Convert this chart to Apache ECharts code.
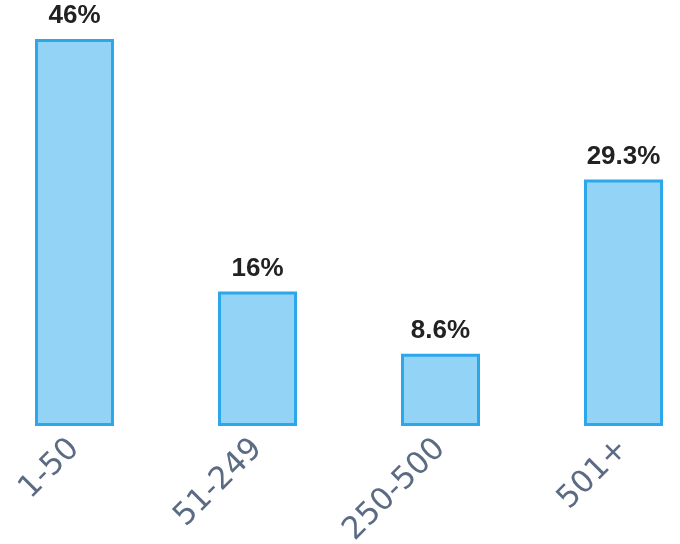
<!DOCTYPE html>
<html><head><meta charset="utf-8">
<script src="https://cdn.jsdelivr.net/npm/echarts@6/dist/echarts.min.js"></script>
<style>html,body{margin:0;padding:0;background:#fff}#c{width:680px;height:544px}</style>
</head><body><div id="c"></div>
<script>
const categories = ['1-50', '51-249', '250-500', '501+'];
const values = [46, 16, 8.6, 29.3];
const labels = ['46%', '16%', '8.6%', '29.3%'];

const chart = echarts.init(document.getElementById('c'));
chart.setOption({
  animation: false,
  grid: { left: -17, right: -35, top: 39, bottom: 118, containLabel: false, outerBoundsMode: 'none' },
  xAxis: {
    type: 'category', data: categories,
    axisLine: { show: false }, axisTick: { show: false },
    axisLabel: { rotate: 45, fontSize: 31, color: '#5b6b84', fontFamily: 'DejaVu Sans', margin: 18, interval: 0 }
  },
  yAxis: { type: 'value', min: 0, max: 46, show: false, splitLine: { show: false } },
  series: [{
    type: 'bar', data: values, barWidth: 79,
    itemStyle: { color: '#93d3f5', borderColor: '#2ba7ea', borderWidth: 3 },
    label: {
      show: true, position: 'top', distance: 10,
      formatter: p => labels[p.dataIndex],
      fontSize: 26, fontWeight: 'bold', color: '#222', fontFamily: 'Liberation Sans'
    }
  }]
});
</script></body></html>
